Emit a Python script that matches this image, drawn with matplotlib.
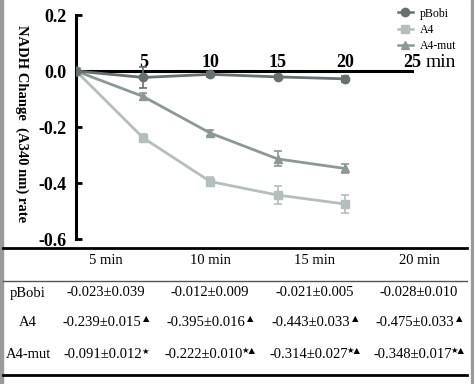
import matplotlib.pyplot as plt
from matplotlib.patches import Rectangle
from matplotlib.lines import Line2D

plt.rcParams["font.family"] = ["Liberation Serif", "DejaVu Sans"]

times = [0, 5, 10, 15, 20]
series = ["pBobi", "A4", "A4-mut"]
pbobi_mean = [0.0, -0.023, -0.012, -0.021, -0.028]
pbobi_sd = [0.0, 0.039, 0.009, 0.005, 0.010]
a4_mean = [0.0, -0.239, -0.395, -0.443, -0.475]
a4_sd = [0.0, 0.015, 0.016, 0.033, 0.033]
mut_mean = [0.0, -0.091, -0.222, -0.314, -0.348]
mut_sd = [0.0, 0.012, 0.010, 0.027, 0.017]

col_labels = ["5 min", "10 min", "15 min", "20 min"]
row_cells = {
    "pBobi": ["-0.023±0.039", "-0.012±0.009", "-0.021±0.005", "-0.028±0.010"],
    "A4": ["-0.239±0.015", "-0.395±0.016", "-0.443±0.033", "-0.475±0.033"],
    "A4-mut": ["-0.091±0.012", "-0.222±0.010", "-0.314±0.027", "-0.348±0.017"],
}
row_marks = {
    "pBobi": ["", "", "", ""],
    "A4": ["▲", "▲", "▲", "▲"],
    "A4-mut": ["★", "★▲", "★▲", "★▲"],
}

colors = {"pBobi": "#66706f", "A4": "#b4bebd", "A4-mut": "#8c9898"}
markers = {"pBobi": "o", "A4": "s", "A4-mut": "^"}

W, H = 474, 384
fig = plt.figure(figsize=(4.74, 3.84), dpi=100)
ax = fig.add_axes([76 / W, 1 - 239 / H, (412 - 76) / W, 224 / H])

data = {"pBobi": (pbobi_mean, pbobi_sd), "A4": (a4_mean, a4_sd), "A4-mut": (mut_mean, mut_sd)}
for name in ["A4", "A4-mut", "pBobi"]:
    m, s = data[name]
    ax.errorbar(times, m, yerr=s, color=colors[name], marker=markers[name], markersize=6,
                linewidth=2, capsize=3, elinewidth=1.2, capthick=1.2, zorder=3)

ax.set_xlim(0, 25)
ax.set_ylim(-0.6, 0.2)
ax.spines["right"].set_visible(False)
ax.spines["top"].set_visible(False)
ax.spines["bottom"].set_position(("data", 0))
ax.spines["bottom"].set_linewidth(2.2)
ax.spines["left"].set_linewidth(2.2)
ax.spines["bottom"].set_zorder(2)
ax.set_yticks([0.2, 0.0, -0.2, -0.4, -0.6])
ax.set_yticklabels(["0.2", "0.0", "-0.2", "-0.4", "-0.6"], fontsize=13, fontweight="bold")
ax.tick_params(axis="y", direction="in", length=4, width=2, pad=7)
ax.set_xticks([5, 10, 15, 20, 25])
ax.set_xticklabels(["5", "10", "15", "20", "25"], fontsize=13, fontweight="bold")
ax.tick_params(axis="x", length=0, pad=-12)
ax.text(26.05, 0.0, "min", fontsize=14, ha="left", va="bottom", transform=ax.transData,
        clip_on=False)
ax.set_ylabel("NADH Change  (A340 nm) rate", fontsize=10.5, fontweight="bold",
              rotation=270, va="center")
ax.yaxis.set_label_coords(-0.16, 0.515)

handles = [Line2D([], [], color=colors[n], marker=markers[n], markersize=6, linewidth=1.8)
           for n in series]
fig.legend(handles, series, loc="upper left", bbox_to_anchor=(387 / W, 1 + 3 / H),
           frameon=False, fontsize=8.5, handlelength=1.3, handletextpad=0.6,
           labelspacing=0.35)

# table below the chart
x0, x1 = 3 / W, 467 / W
fig.add_artist(Line2D([x0, x1], [1 - 248 / H] * 2, color="black", linewidth=2))
fig.add_artist(Line2D([x0, x1], [1 - 281 / H] * 2, color="#555555", linewidth=1))
fig.add_artist(Line2D([x0, x1], [1 - 375 / H] * 2, color="black", linewidth=2))

col_x = [106, 210, 315, 419]
row_y = [293, 322, 354]
renderer = fig.canvas.get_renderer()
for cx, lab in zip(col_x, col_labels):
    fig.text(cx / W, 1 - 261 / H, lab, ha="center", va="center", fontsize=10.5)
for ry, name in zip(row_y, series):
    fig.text(28 / W, 1 - ry / H, name, ha="center", va="center", fontsize=10.5)
    for cx, val, mk in zip(col_x, row_cells[name], row_marks[name]):
        t = fig.text(cx / W, 1 - ry / H, val, ha="left", va="center", fontsize=10.5)
        vw = t.get_window_extent(renderer).width
        shift = -1 if mk.startswith("★") else 1
        if mk:
            m = fig.text(0, 1 - (ry - 3) / H, mk, ha="left", va="center",
                         fontsize=6, family=["DejaVu Sans"])
            mw = m.get_window_extent(renderer).width + shift
        else:
            mw = 0
        left = cx - (vw + mw) / 2
        t.set_x(left / W)
        if mk:
            m.set_x((left + vw + shift) / W)

# gray frame edges
fig.add_artist(Rectangle((0, 0), 3 / W, 1, color="#9a9a9a", transform=fig.transFigure))
fig.add_artist(Rectangle((471 / W, 0), 3 / W, 1, color="#9a9a9a", transform=fig.transFigure))

fig.savefig("out.png", dpi=100)
